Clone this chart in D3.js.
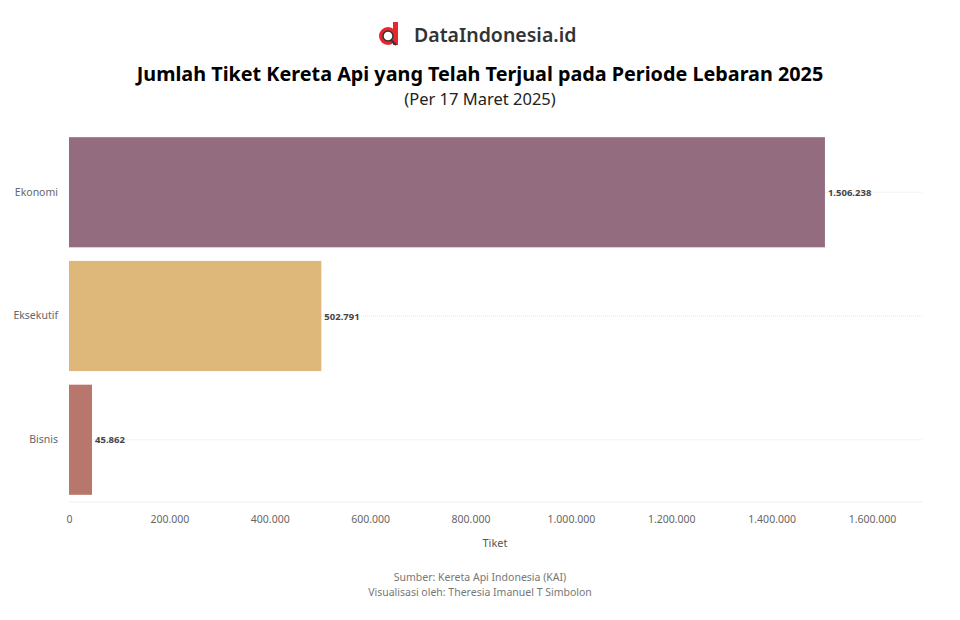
<!DOCTYPE html>
<html><head><meta charset="utf-8">
<script src="https://cdn.jsdelivr.net/npm/d3@7"></script>
<style>body{margin:0;background:#fff}svg{display:block}</style>
</head><body>
<svg id="c" width="960" height="620"></svg>
<script>
const categories = ["Ekonomi", "Eksekutif", "Bisnis"];
const values = [1506238, 502791, 45862];
const colors = ["#936C7F", "#DDB87A", "#B8776C"];
const xTicks = [0, 200000, 400000, 600000, 800000, 1000000, 1200000, 1400000, 1600000];
const title = "Jumlah Tiket Kereta Api yang Telah Terjual pada Periode Lebaran 2025";
const subtitle = "(Per 17 Maret 2025)";
const axisTitle = "Tiket";
const sourceLines = ["Sumber: Kereta Api Indonesia (KAI)", "Visualisasi oleh: Theresia Imanuel T Simbolon"];

const svg = d3.select("#c");
const font = "'Noto Sans', sans-serif";
const fmt = v => d3.format(",")(v).replace(/,/g, ".");

const m = {left: 69, right: 922, top: 131, bottom: 501};
const x = d3.scaleLinear().domain([0, 1600000]).range([m.left, 872]);
const y = d3.scaleBand().domain(categories).range([m.top, m.bottom]).paddingInner(0.11).paddingOuter(0.05);

// logo
const lg = svg.append("g").attr("transform", "translate(378,22)");
lg.append("circle").attr("cx", 10).attr("cy", 14).attr("r", 9).attr("fill", "#E8262D");
lg.append("rect").attr("x", 15).attr("y", 0).attr("width", 5).attr("height", 23).attr("fill", "#E8262D");
lg.append("circle").attr("cx", 10).attr("cy", 14).attr("r", 5).attr("fill", "#fff").attr("stroke", "#333").attr("stroke-width", 1.5);
lg.append("line").attr("x1", 13).attr("y1", 18).attr("x2", 18).attr("y2", 23).attr("stroke", "#333").attr("stroke-width", 2);
svg.append("text").attr("x", 414).attr("y", 42).attr("font-family", font).attr("font-size", 19.5).attr("font-weight", 600)
  .attr("fill", "#333").text("DataIndonesia.id");

svg.append("text").attr("x", 480).attr("y", 81).attr("text-anchor", "middle").attr("font-family", font)
  .attr("font-size", 19.8).attr("font-weight", 700).attr("fill", "#000").text(title);
svg.append("text").attr("x", 480).attr("y", 105).attr("text-anchor", "middle").attr("font-family", font)
  .attr("font-size", 16.5).attr("fill", "#222").text(subtitle);

// gridlines at category centers
svg.append("g").selectAll("line").data(categories).join("line")
  .attr("x1", m.left).attr("x2", m.right)
  .attr("y1", d => y(d) + y.bandwidth() / 2).attr("y2", d => y(d) + y.bandwidth() / 2)
  .attr("stroke", "#e6e6e6").attr("stroke-dasharray", "1,1");
svg.append("line").attr("x1", m.left).attr("x2", m.right).attr("y1", m.bottom + 1).attr("y2", m.bottom + 1)
  .attr("stroke", "#eeeeee");

// bars
svg.append("g").selectAll("rect").data(categories).join("rect")
  .attr("x", x(0)).attr("y", d => y(d))
  .attr("width", (d, i) => x(values[i]) - x(0)).attr("height", y.bandwidth())
  .attr("fill", (d, i) => colors[i]);

// value labels
svg.append("g").selectAll("text").data(categories).join("text")
  .attr("x", (d, i) => x(values[i]) + 3).attr("y", d => y(d) + y.bandwidth() / 2 + 3.5)
  .attr("font-family", font).attr("font-size", 9.5).attr("font-weight", 700).attr("fill", "#444")
  .text((d, i) => fmt(values[i]));

// y axis
const ya = svg.append("g").attr("transform", `translate(${m.left - 11},0)`)
  .call(d3.axisLeft(y).tickSize(0).tickPadding(0));
ya.select(".domain").remove();
ya.selectAll("text").attr("font-family", font).attr("font-size", 10.5).attr("fill", "#666");

// x axis
const xa = svg.append("g").attr("transform", `translate(0,${m.bottom + 9})`)
  .call(d3.axisBottom(x).tickValues(xTicks).tickSize(0).tickPadding(6).tickFormat(fmt));
xa.select(".domain").remove();
xa.selectAll("text").attr("font-family", font).attr("font-size", 10.5).attr("fill", "#666");

svg.append("text").attr("x", 495).attr("y", 547).attr("text-anchor", "middle").attr("font-family", font)
  .attr("font-size", 11).attr("fill", "#555").text(axisTitle);

svg.append("g").selectAll("text").data(sourceLines).join("text")
  .attr("x", 480).attr("y", (d, i) => 581 + i * 15).attr("text-anchor", "middle")
  .attr("font-family", font).attr("font-size", 10.5).attr("fill", "#777").text(d => d);
</script>
</body></html>
